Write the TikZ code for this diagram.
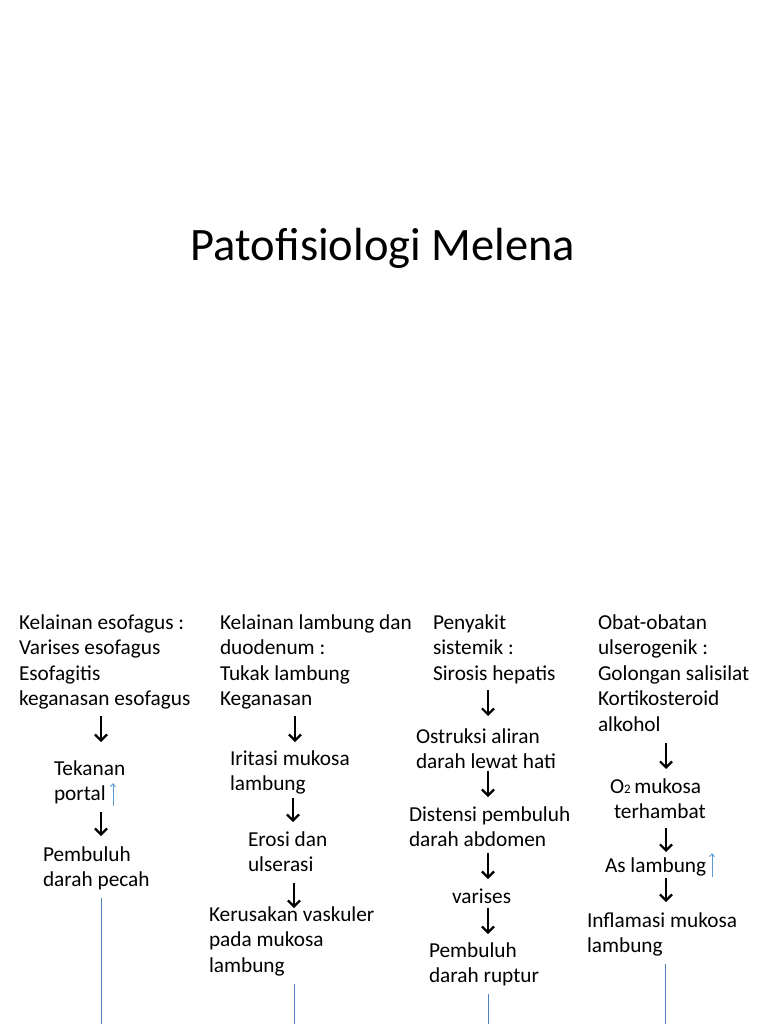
\documentclass[tikz,border=0pt]{standalone}
\usepackage{fontspec}
\setmainfont{Carlito}
\usetikzlibrary{arrows.meta}
\definecolor{upblue}{HTML}{5B9BD5}
\definecolor{lineblue}{HTML}{4F81BD}
\newcommand\txtblock[1]{\begin{tabular}[t]{@{}l@{}}#1\end{tabular}}
\tikzset{
  txt/.style={anchor=base west, inner sep=0pt, outer sep=0pt, font=\fontsize{21.3}{25.5}\selectfont},
  blkarrow/.style={line width=2.2pt, -{Straight Barb[length=6pt,width=12pt]}},
  uparrow/.style={draw=upblue, line width=0.9pt, -{Straight Barb[length=3pt,width=5pt]}},
  bline/.style={draw=lineblue, line width=0.8pt}
}
\begin{document}
\begin{tikzpicture}[x=1pt,y=-1pt]
\useasboundingbox (0,0) rectangle (768,1024);
\node[anchor=base, inner sep=0pt, font=\fontsize{46.5}{56}\selectfont] (title) at (383,260) {Patofisiologi Melena};

% column 1
\node[txt] (c1a) at (19,629) {\txtblock{Kelainan esofagus :\\Varises esofagus\\Esofagitis\\keganasan esofagus}};
\node[txt] (c1b) at (54,775) {\txtblock{Tekanan\\portal}};
\node[txt] (c1c) at (43,861) {\txtblock{Pembuluh\\darah pecah}};
\coordinate (a11s) at (101,716); \coordinate (a11e) at (101,742);
\coordinate (a12s) at (101,812); \coordinate (a12e) at (101,836);
\draw[blkarrow] (a11s) -- (a11e);
\draw[blkarrow] (a12s) -- (a12e);
\coordinate (u1s) at (113,806); \coordinate (u1e) at (113,783);
\draw[uparrow] (u1s) -- (u1e);
\coordinate (l1s) at (101,898); \coordinate (l1e) at (101,1024);
\draw[bline] (l1s) -- (l1e);

% column 2
\node[txt] (c2a) at (220,629) {\txtblock{Kelainan lambung dan\\duodenum :\\Tukak lambung\\Keganasan}};
\node[txt] (c2b) at (230,765) {\txtblock{Iritasi mukosa\\lambung}};
\node[txt] (c2c) at (248,846) {\txtblock{Erosi dan\\ulserasi}};
\node[txt] (c2d) at (209,921) {\txtblock{Kerusakan vaskuler\\pada mukosa\\lambung}};
\coordinate (a21s) at (295,716); \coordinate (a21e) at (295,742);
\coordinate (a22s) at (293,798); \coordinate (a22e) at (293,822);
\coordinate (a23s) at (294,883); \coordinate (a23e) at (294,908);
\draw[blkarrow] (a21s) -- (a21e);
\draw[blkarrow] (a22s) -- (a22e);
\draw[blkarrow] (a23s) -- (a23e);
\coordinate (l2s) at (294,984); \coordinate (l2e) at (294,1024);
\draw[bline] (l2s) -- (l2e);

% column 3
\node[txt] (c3a) at (433,629) {\txtblock{Penyakit\\sistemik :\\Sirosis hepatis}};
\node[txt] (c3b) at (416,743) {\txtblock{Ostruksi aliran\\darah lewat hati}};
\node[txt] (c3c) at (409,821) {\txtblock{Distensi pembuluh\\darah abdomen}};
\node[txt] (c3d) at (452,903) {\txtblock{varises}};
\node[txt] (c3e) at (429,957) {\txtblock{Pembuluh\\darah ruptur}};
\coordinate (a31s) at (488,690); \coordinate (a31e) at (488,716);
\coordinate (a32s) at (488,771); \coordinate (a32e) at (488,797);
\coordinate (a33s) at (488,853); \coordinate (a33e) at (488,879);
\coordinate (a34s) at (488,908); \coordinate (a34e) at (488,934);
\draw[blkarrow] (a31s) -- (a31e);
\draw[blkarrow] (a32s) -- (a32e);
\draw[blkarrow] (a33s) -- (a33e);
\draw[blkarrow] (a34s) -- (a34e);
\coordinate (l3s) at (488,994); \coordinate (l3e) at (488,1024);
\draw[bline] (l3s) -- (l3e);

% column 4
\node[txt] (c4a) at (598,629) {\txtblock{Obat-obatan\\ulserogenik :\\Golongan salisilat\\Kortikosteroid\\alkohol}};
\node[txt] (c4b) at (610,793) {\txtblock{O{\fontsize{13}{13}\selectfont 2}\,mukosa\\\hspace*{4pt}terhambat}};
\node[txt] (c4c) at (605,872) {\txtblock{As lambung}};
\node[txt] (c4d) at (587,927) {\txtblock{Inflamasi mukosa\\lambung}};
\coordinate (a41s) at (666,743); \coordinate (a41e) at (666,769);
\coordinate (a42s) at (666,828); \coordinate (a42e) at (666,852);
\coordinate (a43s) at (666,878); \coordinate (a43e) at (666,902);
\draw[blkarrow] (a41s) -- (a41e);
\draw[blkarrow] (a42s) -- (a42e);
\draw[blkarrow] (a43s) -- (a43e);
\coordinate (u4s) at (712,877); \coordinate (u4e) at (712,853);
\draw[uparrow] (u4s) -- (u4e);
\coordinate (l4s) at (665,964); \coordinate (l4e) at (665,1024);
\draw[bline] (l4s) -- (l4e);
\end{tikzpicture}
\end{document}
